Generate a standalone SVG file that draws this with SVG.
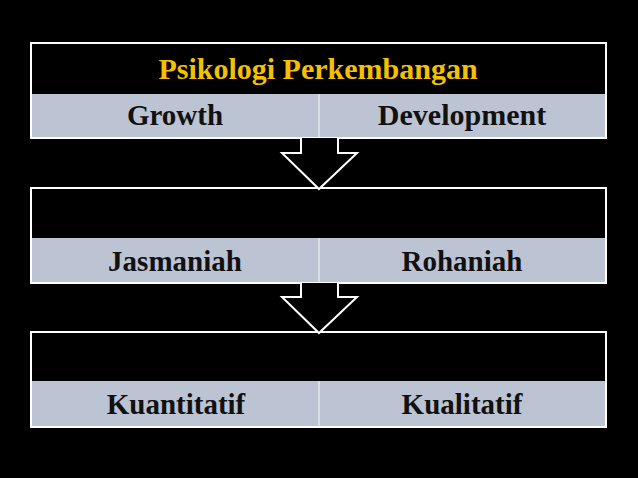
<svg xmlns="http://www.w3.org/2000/svg" width="638" height="478" viewBox="0 0 638 478">
<style>
.hdr{fill:#000;stroke:none}
.cell{fill:#bcc3d2;stroke:none}
.frame{fill:none;stroke:#fff;stroke-width:2}
.div{stroke:#e4e8ef;stroke-width:1.5}
.arrow{fill:#000;stroke:none}
.aline{fill:none;stroke:#fff;stroke-width:2;stroke-linejoin:miter}
text{font-family:"Liberation Serif","DejaVu Serif",serif;font-weight:bold;font-size:29px;text-anchor:middle;fill:#111}
.title{fill:#f5c000;font-size:30px}
.wide{font-size:30px}
</style>
<rect width="638" height="478" fill="#000"/>
<g id="box1">
<rect class="hdr" x="31" y="43" width="575" height="51"/>
<rect class="cell" x="31" y="94" width="575" height="44"/>
<line class="div" x1="319" y1="94" x2="319" y2="138"/>
<rect class="frame" x="31" y="43" width="575" height="95"/>
<text class="title" x="318" y="79">Psikologi Perkembangan</text>
<text x="175" y="125">Growth</text>
<text class="wide" x="462" y="125">Development</text>
</g>
<g id="box2">
<rect class="hdr" x="31" y="188" width="575" height="50"/>
<rect class="cell" x="31" y="238" width="575" height="45"/>
<line class="div" x1="319" y1="238" x2="319" y2="283"/>
<rect class="frame" x="31" y="188" width="575" height="95"/>
<text x="175" y="271">Jasmaniah</text>
<text x="462" y="271">Rohaniah</text>
</g>
<g id="box3">
<rect class="hdr" x="31" y="332" width="575" height="49"/>
<rect class="cell" x="31" y="381" width="575" height="46"/>
<line class="div" x1="319" y1="381" x2="319" y2="427"/>
<rect class="frame" x="31" y="332" width="575" height="95"/>
<text x="176" y="414">Kuantitatif</text>
<text x="462" y="414">Kualitatif</text>
</g>
<g id="connectors">
<polygon class="arrow" points="301,138 338,138 338,153 357,153 319,189 282,153 301,153"/>
<polyline class="aline" points="338,138 338,153 357,153 319,189 282,153 301,153 301,138"/>
<polygon class="arrow" points="301,283 338,283 338,297 357,297 319,333 282,297 301,297"/>
<polyline class="aline" points="338,283 338,297 357,297 319,333 282,297 301,297 301,283"/>
</g>
</svg>
